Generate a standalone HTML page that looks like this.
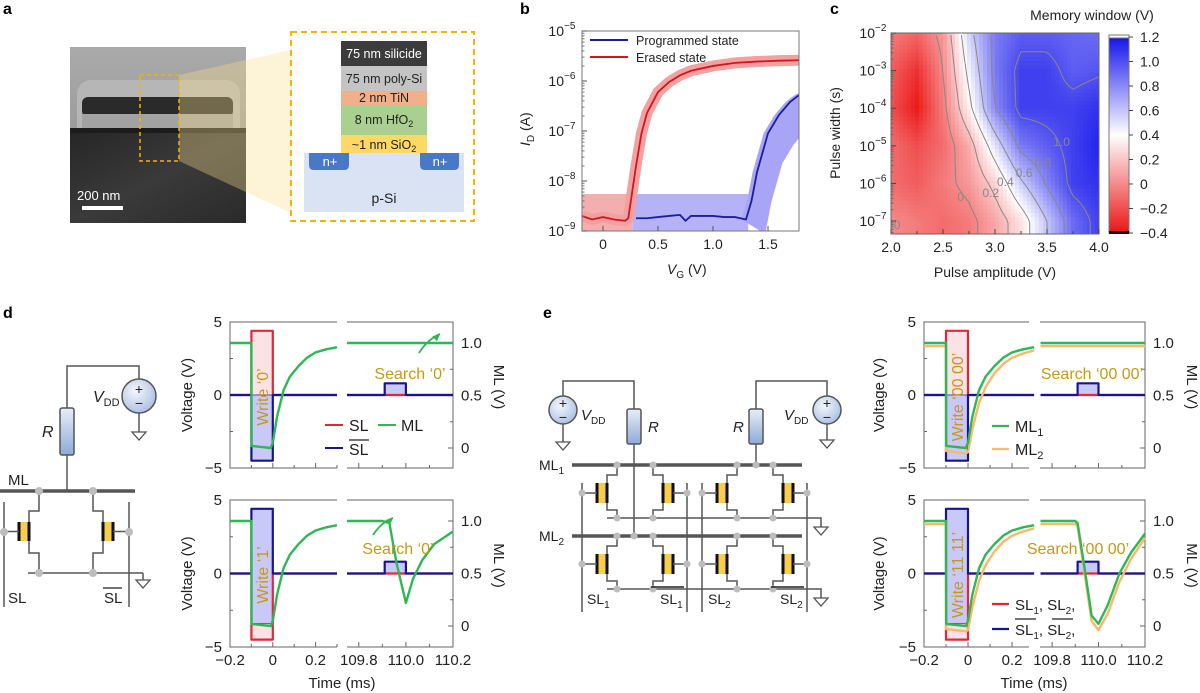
<!DOCTYPE html>
<html><head><meta charset="utf-8"><style>
html,body{margin:0;padding:0;background:#fff;}
svg{display:block;font-family:"Liberation Sans",Arial,sans-serif;}
</style></head><body>
<svg id="fig" xmlns="http://www.w3.org/2000/svg" width="1200" height="693" viewBox="0 0 1200 693">
<defs>
<linearGradient id="temTop" x1="0" y1="0" x2="0" y2="1"><stop offset="0" stop-color="#aaaaaa"/><stop offset="1" stop-color="#8e8e8e"/></linearGradient>
<linearGradient id="temSub" x1="0" y1="0" x2="1" y2="1"><stop offset="0" stop-color="#262626"/><stop offset="0.5" stop-color="#3a3a3a"/><stop offset="1" stop-color="#2a2a2a"/></linearGradient>
<linearGradient id="resG" x1="0" y1="0" x2="0" y2="1"><stop offset="0" stop-color="#e8eef8"/><stop offset="1" stop-color="#8eaad8"/></linearGradient>
<radialGradient id="srcG" cx="0.4" cy="0.35" r="0.7"><stop offset="0" stop-color="#f4f7fc"/><stop offset="1" stop-color="#a9bee3"/></radialGradient>
<linearGradient id="cbG" x1="0" y1="1" x2="0" y2="0"><stop offset="0" stop-color="#eb1414"/><stop offset="0.5" stop-color="#ffffff"/><stop offset="1" stop-color="#1414eb"/></linearGradient>
<clipPath id="clipC"><rect x="891" y="33" width="208" height="201"/></clipPath>
<clipPath id="clipB"><rect x="582" y="31" width="217" height="200"/></clipPath>
</defs>

<g>
<text x="3" y="14" font-size="16" font-weight="bold">a</text>
<g>
<rect x="70" y="47" width="176" height="176" fill="url(#temTop)"/>
<rect x="77" y="80" width="163" height="60" rx="14" fill="#b6b6b6"/>
<rect x="82" y="97" width="151" height="20" rx="6" fill="#2a2a2a"/>
<rect x="82" y="114" width="151" height="14" fill="#a2a2a2"/>
<rect x="70" y="128" width="176" height="5" fill="#1c1c1c"/>
<rect x="70" y="133" width="176" height="90" fill="url(#temSub)"/>
<text x="77" y="200" font-size="13" fill="#fff">200 nm</text>
<rect x="82" y="206" width="41" height="4" fill="#fff"/>
</g>
<polygon points="179,75 291,50 291,213 179,161" fill="rgba(250,222,140,0.35)"/>
<rect x="140" y="75" width="39" height="86" fill="none" stroke="#f5b400" stroke-width="1.5" stroke-dasharray="4,3"/>
<rect x="291" y="32" width="183" height="189" fill="#fff" stroke="#f5b400" stroke-width="2" stroke-dasharray="6,4"/>
<g font-size="12.5" text-anchor="middle">
<rect x="341" y="41" width="86" height="25" fill="#3c3c3c"/><text x="384" y="58" fill="#fff">75 nm silicide</text>
<rect x="341" y="66" width="86" height="25" fill="#c4c4c4"/><text x="384" y="83" fill="#222">75 nm poly-Si</text>
<rect x="341" y="91" width="86" height="14" fill="#f2b08a"/><text x="384" y="102" fill="#222">2 nm TiN</text>
<rect x="341" y="105" width="86" height="30" fill="#a9d08e"/><text x="384" y="124" fill="#222">8 nm HfO<tspan font-size="9" dy="3">2</tspan></text>
<rect x="341" y="135" width="86" height="18" fill="#fdd865"/><text x="384" y="149" fill="#222">~1 nm SiO<tspan font-size="9" dy="3">2</tspan></text>
<rect x="304" y="153" width="160" height="59" fill="#d9e3f3"/>
<path d="M309,153 h40 v12 q0,5 -5,5 h-30 q-5,0 -5,-5 z" fill="#4a78c8"/>
<path d="M420,153 h39 v12 q0,5 -5,5 h-29 q-5,0 -5,-5 z" fill="#4a78c8"/>
<text x="330" y="166" fill="#fff" font-size="13">n+</text>
<text x="440" y="166" fill="#fff" font-size="13">n+</text>
<text x="384" y="203" fill="#222" font-size="14">p-Si</text>
</g>
</g>

<text x="520" y="14" font-size="16" font-weight="bold">b</text>
<text x="830" y="14" font-size="16" font-weight="bold">c</text>
<text x="3" y="318" font-size="16" font-weight="bold">d</text>
<text x="543" y="318" font-size="16" font-weight="bold">e</text>

<g id="gb"></g>
<g id="gc"></g>
<g id="gd"></g>
<g id="ge"></g>
</svg>

<script>
const bTickExp = [-5, -6, -7, -8, -9];
const bXTicks = [0, 0.5, 1.0, 1.5];
const vgErased = [-0.19, -0.1, 0, 0.1, 0.2, 0.23, 0.26, 0.3, 0.35, 0.4, 0.5, 0.6, 0.7, 0.8, 1.0, 1.2, 1.4, 1.6, 1.78];
const idErased = [2e-9, 1.7e-9, 1.9e-9, 1.7e-9, 1.6e-9, 1.8e-9, 5e-9, 2e-8, 9e-8, 2.3e-7, 6e-7, 9.5e-7, 1.3e-6, 1.6e-6, 2e-6, 2.3e-6, 2.45e-6, 2.55e-6, 2.6e-6];
const vgProg = [0.3, 0.4, 0.5, 0.6, 0.7, 0.75, 0.8, 0.9, 1.0, 1.1, 1.2, 1.3, 1.35, 1.4, 1.5, 1.6, 1.7, 1.78];
const idProg = [1.8e-9, 1.8e-9, 1.9e-9, 2e-9, 2.1e-9, 1.6e-9, 2e-9, 2e-9, 2e-9, 1.9e-9, 1.9e-9, 1.7e-9, 4e-9, 1.5e-8, 9e-8, 2.1e-7, 3.8e-7, 5.2e-7];

const ampGrid = [2.0, 2.25, 2.5, 2.75, 3.0, 3.25, 3.5, 3.75, 4.0];
const logWGrid = [-2, -3, -4, -5, -6, -7];
const mwW1e2 = [-0.05, -0.12, 0.05, 0.55, 0.85, 0.95, 0.95, 0.92, 0.9];
const mwW1e3 = [-0.15, -0.3, 0.0, 0.45, 0.85, 1.05, 1.05, 0.95, 0.98];
const mwW1e4 = [-0.2, -0.38, -0.05, 0.35, 0.8, 1.05, 1.05, 1.05, 1.1];
const mwW1e5 = [-0.1, -0.2, -0.1, 0.12, 0.5, 0.85, 0.95, 1.05, 1.15];
const mwW1e6 = [-0.1, -0.15, -0.05, 0.05, 0.25, 0.57, 0.82, 1.05, 1.1];
const mwW1e7 = [0.0, -0.05, -0.1, -0.05, 0.1, 0.3, 0.6, 0.9, 1.05];
const mwGrid = [mwW1e2, mwW1e3, mwW1e4, mwW1e5, mwW1e6, mwW1e7];
const cXTicks = [2.0, 2.5, 3.0, 3.5, 4.0];
const cYTickExp = [-2, -3, -4, -5, -6, -7];
const cbTicks = [1.2, 1.0, 0.8, 0.6, 0.4, 0.2, 0, -0.2, -0.4];
const contourLevels = [0, 0.2, 0.4, 0.6, 0.8, 1.0];

const wrTime = [-0.2, -0.1, -0.1, 0, 0, 0.3];
const wr0SL = [0, 0, 4.4, 4.4, 0, 0];
const wr0SLb = [0, 0, -4.5, -4.5, 0, 0];
const wr1SL = [0, 0, -4.5, -4.5, 0, 0];
const wr1SLb = [0, 0, 4.4, 4.4, 0, 0];
const srTime = [109.75, 109.91, 109.91, 110.0, 110.0, 110.2];
const srSL = [0, 0, 0, 0, 0, 0];
const srSLb = [0, 0, 0.8, 0.8, 0, 0];
const mlTime = [-0.2, -0.1, -0.099, -0.01, 0, 0.02, 0.05, 0.08, 0.12, 0.16, 0.2, 0.25, 0.3];
const mlWrite = [1.0, 1.0, 0.02, 0.0, 0.05, 0.3, 0.55, 0.68, 0.78, 0.86, 0.91, 0.94, 0.96];
const ml2Write = [0.97, 0.97, -0.03, -0.05, -0.04, 0.18, 0.43, 0.58, 0.71, 0.8, 0.86, 0.9, 0.93];
const mlHoldTime = [109.75, 110.2];
const mlHold = [1.0, 1.0];
const ml2Hold = [0.97, 0.97];
const dSearchTime = [109.75, 109.9, 109.93, 109.96, 110.0, 110.03, 110.07, 110.12, 110.2];
const dSearchML = [1.0, 1.0, 0.98, 0.6, 0.22, 0.45, 0.63, 0.78, 0.9];
const eSearchTime = [109.75, 109.9, 109.91, 109.94, 109.97, 110.0, 110.04, 110.09, 110.14, 110.2];
const eSearchML1 = [1.0, 1.0, 0.98, 0.55, 0.1, 0.02, 0.2, 0.5, 0.7, 0.88];
const eSearchML2 = [0.97, 0.97, 0.95, 0.5, 0.05, -0.04, 0.12, 0.42, 0.64, 0.84];
const vTicks = [5, 0, -5];
const mlTicks = [1.0, 0.5, 0];
const tLeftTicks = [-0.2, 0, 0.2];
const tRightTicks = [109.8, 110.0, 110.2];

const NS = 'http://www.w3.org/2000/svg';
function mk(tag, attrs, parent) { const e = document.createElementNS(NS, tag); for (const k in attrs) e.setAttribute(k, attrs[k]); parent.appendChild(e); return e; }
function tx(str, attrs, parent) { const e = mk('text', attrs, parent); e.textContent = str; return e; }
function sub(t, s, dy, fs) { const a = document.createElementNS(NS, 'tspan'); a.setAttribute('dy', dy); a.setAttribute('font-size', fs); a.textContent = s; t.appendChild(a); return a; }
function fmt(v, d) { const s = v.toFixed(d); return v < 0 ? '\u2212' + s.slice(1) : s; }

(function () {
  const g = document.getElementById('gb');
  const L = 582, R = 799, T = 31, B = 231;
  const xB = v => 603 + v * 110;
  const yB = id => T + (-5 - Math.log10(id)) * 50;
  const plot = mk('g', { 'clip-path': 'url(#clipB)' }, g);
  let r = mk('rect', { x: L, y: yB(5.5e-9), width: xB(0.27) - L, height: B - yB(5.5e-9), fill: '#f3a0a0', opacity: 0.85 }, plot);
  
  
  r = mk('rect', { x: xB(0.27), y: yB(5.5e-9), width: xB(1.32) - xB(0.27), height: B - yB(5.5e-9), fill: '#a8a4f6', opacity: 0.85 }, plot);
  
  
  let up = [], lo = [];
  vgProg.forEach((v, i) => { if (v >= 1.28) { up.push(xB(v - 0.04) + ',' + yB(idProg[i])); lo.unshift(xB(v + 0.13) + ',' + yB(Math.max(idProg[i] * 0.25, 1e-9))); } });
  let p = mk('polygon', { points: up.concat([xB(1.9) + ',' + yB(idProg[idProg.length - 1] * 1.5), xB(1.9) + ',' + B]).concat(lo).join(' '), fill: '#a8a4f6' }, plot);
  
  
  let pts = vgErased.map((v, i) => xB(v) + ',' + yB(idErased[i])).join(' ');
  p = mk('polyline', { points: pts, fill: 'none', stroke: '#f3a0a0', 'stroke-width': 11, 'stroke-linejoin': 'round' }, plot);
  
  
  p = mk('polyline', { points: pts, fill: 'none', stroke: '#d0161e', 'stroke-width': 1.8 }, plot);
  
  
  pts = vgProg.map((v, i) => xB(v) + ',' + yB(idProg[i])).join(' ');
  p = mk('polyline', { points: pts, fill: 'none', stroke: '#1c1ca0', 'stroke-width': 1.8 }, plot);
  
  
  const fr = mk('rect', { x: L, y: T, width: R - L, height: B - T, fill: 'none', stroke: '#777', 'stroke-width': 1 }, g);
  
  
  bTickExp.forEach(e => {
    const y = yB(Math.pow(10, e));
    mk('line', { x1: L, x2: L + 5, y1: y, y2: y, stroke: '#555' }, g);
    if (e > -9) for (let k = 2; k <= 9; k++) { const yy = yB(k * Math.pow(10, e - 1)); mk('line', { x1: L, x2: L + 2.5, y1: yy, y2: yy, stroke: '#777' }, g); }
    const t = tx('10', { x: L - 18, y: y + 5, 'font-size': 14, 'text-anchor': 'end', fill: '#222' }, g);
    
    
    tx('\u2212' + (-e), { x: L - 18, y: y - 2, 'font-size': 10, fill: '#222' }, g);
  });
  bXTicks.forEach(v => {
    mk('line', { x1: xB(v), x2: xB(v), y1: B, y2: B - 5, stroke: '#555' }, g);
    const t = tx(v === 0 ? '0' : v.toFixed(1), { x: xB(v), y: B + 18, 'font-size': 14, 'text-anchor': 'middle', fill: '#222' }, g);
    
    
  });
  let t = mk('text', { x: 667, y: 274, 'font-size': 14, fill: '#222' }, g);
  let it = document.createElementNS(NS, 'tspan'); it.setAttribute('font-style', 'italic'); it.textContent = 'V'; t.appendChild(it);
  sub(t, 'G', 4, 10);
  let tv = document.createElementNS(NS, 'tspan'); tv.setAttribute('dy', -4); tv.textContent = ' (V)'; t.appendChild(tv);
  
  
  t = mk('text', { transform: 'translate(530,146) rotate(-90)', 'font-size': 14, fill: '#222' }, g);
  it = document.createElementNS(NS, 'tspan'); it.setAttribute('font-style', 'italic'); it.textContent = 'I'; t.appendChild(it);
  sub(t, 'D', 4, 10);
  tv = document.createElementNS(NS, 'tspan'); tv.setAttribute('dy', -4); tv.textContent = ' (A)'; t.appendChild(tv);
  
  
  let l = mk('line', { x1: 590, x2: 628, y1: 40, y2: 40, stroke: '#1c1ca0', 'stroke-width': 2 }, g);
  
  
  tx('Programmed state', { x: 636, y: 45, 'font-size': 12.5, fill: '#222' }, g);
  l = mk('line', { x1: 590, x2: 628, y1: 57, y2: 57, stroke: '#d0161e', 'stroke-width': 2 }, g);
  
  
  tx('Erased state', { x: 636, y: 62, 'font-size': 12.5, fill: '#222' }, g);
})();

(function () {
  const g = document.getElementById('gc');
  const L = 891, R = 1099, T = 33, B = 234;
  const xC = a => L + (a - 2) * 104;
  const yC = lw => T + (-2 - lw) * 37.6;
  const aInv = x => 2 + (x - L) / 104;
  const lwInv = y => -2 - (y - T) / 37.6;
  function val(a, lw) {
    let i = Math.min(Math.max((a - ampGrid[0]) / 0.25, 0), ampGrid.length - 1.0001);
    let j = Math.min(Math.max((logWGrid[0] - lw), 0), logWGrid.length - 1.0001);
    const i0 = Math.floor(i), j0 = Math.floor(j), fi = i - i0, fj = j - j0;
    const v00 = mwGrid[j0][i0], v01 = mwGrid[j0][i0 + 1], v10 = mwGrid[j0 + 1][i0], v11 = mwGrid[j0 + 1][i0 + 1];
    return (v00 * (1 - fi) + v01 * fi) * (1 - fj) + (v10 * (1 - fi) + v11 * fi) * fj;
  }
  function cmap(v) {
    const t = Math.max(0, Math.min(1, (v + 0.4) / 1.6));
    let r, gg, b;
    if (t < 0.5) { const u = t / 0.5; r = 235 + 20 * u; gg = 20 + 235 * u; b = 20 + 235 * u; }
    else { const u = (t - 0.5) / 0.5; r = 255 - 235 * u; gg = 255 - 235 * u; b = 255 - 20 * u; }
    return 'rgb(' + Math.round(r) + ',' + Math.round(gg) + ',' + Math.round(b) + ')';
  }
  const hm = mk('g', { 'clip-path': 'url(#clipC)' }, g);
  
  
  const st = 4;
  const grid = [];
  for (let y = T, jj = 0; y < B + st; y += st, jj++) {
    grid.push([]);
    for (let x = L; x < R + st; x += st) {
      const v = val(aInv(x + st / 2), lwInv(y + st / 2));
      grid[jj].push(v);
      const c = mk('rect', { x: x, y: y, width: st + 0.6, height: st + 0.6, fill: cmap(v) }, hm);
      
      
    }
  }
  contourLevels.forEach(lev => {
    let d = '';
    for (let j = 0; j < grid.length - 1; j++) for (let i = 0; i < grid[0].length - 1; i++) {
      const c = [grid[j][i], grid[j][i + 1], grid[j + 1][i + 1], grid[j + 1][i]];
      const px = [[0, 0], [1, 0], [1, 1], [0, 1]];
      const cr = [];
      for (let k = 0; k < 4; k++) {
        const a = c[k], b = c[(k + 1) % 4];
        if ((a - lev) * (b - lev) < 0) {
          const f = (lev - a) / (b - a), p0 = px[k], p1 = px[(k + 1) % 4];
          cr.push([L + st / 2 + (i + p0[0] + (p1[0] - p0[0]) * f) * st, T + st / 2 + (j + p0[1] + (p1[1] - p0[1]) * f) * st]);
        }
      }
      for (let k = 0; k + 1 < cr.length; k += 2) d += 'M' + cr[k][0].toFixed(1) + ',' + cr[k][1].toFixed(1) + 'L' + cr[k + 1][0].toFixed(1) + ',' + cr[k + 1][1].toFixed(1);
    }
    const p = mk('path', { d: d, stroke: '#888', 'stroke-width': 1, fill: 'none' }, hm);
    
    
  });
  const labs = [['0', 2.67, -6.36], ['0.2', 2.96, -6.25], ['0.4', 3.1, -5.96], ['0.6', 3.28, -5.72], ['0.8', 3.46, -5.45], ['1.0', 3.64, -4.9], ['0', 2.06, -7.1]];
  labs.forEach(l => {
    const t = tx(l[0], { x: xC(l[1]), y: yC(l[2]) + 4, 'font-size': 12, fill: '#888', 'text-anchor': 'middle' }, g);
    
    
  });
  mk('rect', { x: L, y: T, width: R - L, height: B - T, fill: 'none', stroke: '#666' }, g);
  cXTicks.forEach(a => {
    mk('line', { x1: xC(a), x2: xC(a), y1: B, y2: B - 5, stroke: '#444' }, g);
    mk('line', { x1: xC(a + 0.25), x2: xC(a + 0.25), y1: B, y2: B - 3, stroke: '#444' }, g);
    const t = tx(a.toFixed(1), { x: xC(a), y: B + 18, 'font-size': 14, 'text-anchor': 'middle', fill: '#222' }, g);
    
    
  });
  cYTickExp.forEach(e => {
    const y = yC(e);
    mk('line', { x1: L, x2: L + 5, y1: y, y2: y, stroke: '#444' }, g);
    for (let k = 2; k <= 9; k++) { const yy = yC(e - 1 + Math.log10(k)); if (yy < B) mk('line', { x1: L, x2: L + 2.5, y1: yy, y2: yy, stroke: '#666' }, g); }
    const t = tx('10', { x: L - 16, y: y + 5, 'font-size': 14, 'text-anchor': 'end', fill: '#222' }, g);
    
    
    tx('\u2212' + (-e), { x: L - 16, y: y - 2, 'font-size': 10, fill: '#222' }, g);
  });
  let t = tx('Pulse amplitude (V)', { x: 995, y: 277, 'font-size': 14, 'text-anchor': 'middle', fill: '#222' }, g);
  
  
  t = tx('Pulse width (s)', { transform: 'translate(840,133) rotate(-90)', 'font-size': 14, 'text-anchor': 'middle', fill: '#222' }, g);
  
  
  t = tx('Memory window (V)', { x: 1092, y: 20, 'font-size': 14, 'text-anchor': 'middle', fill: '#222' }, g);
  
  
  const cb = mk('rect', { x: 1109, y: 37, width: 20, height: 196, fill: 'url(#cbG)', stroke: '#777' }, g);
  
  
  mk('rect', { x: 1109, y: 231, width: 20, height: 3, fill: '#111' }, g);
  mk('rect', { x: 1109, y: 35, width: 20, height: 3, fill: '#fff', stroke: '#777' }, g);
  cbTicks.forEach(v => {
    const y = 37 + (1.2 - v) * 122.5;
    mk('line', { x1: 1129, x2: 1133, y1: y, y2: y, stroke: '#444' }, g);
    const tt = tx(v === 0 ? '0' : fmt(v, 1), { x: 1140, y: y + 5, 'font-size': 14, fill: '#222' }, g);
    
    
  });
})();

function scope(g, o) {
  const xL = t => o.xl0 + (t - o.dl0) / (o.dl1 - o.dl0) * (o.xl1 - o.xl0);
  const xR = t => o.xr0 + (t - o.dr0) / (o.dr1 - o.dr0) * (o.xr1 - o.xr0);
  const yV = v => o.yT + (5 - v) * (o.yB - o.yT) / 10;
  const yM = m => o.yT + 126 - m * 105;
  const ax = { stroke: '#666', 'stroke-width': 1 };
  mk('polyline', Object.assign({ points: `${o.xl1},${o.yT} ${o.xl0},${o.yT} ${o.xl0},${o.yB} ${o.xl1},${o.yB}`, fill: 'none' }, ax), g);
  mk('polyline', Object.assign({ points: `${o.xr0},${o.yT} ${o.xr1},${o.yT} ${o.xr1},${o.yB} ${o.xr0},${o.yB}`, fill: 'none' }, ax), g);
  [5, 2.5, 0, -2.5, -5].forEach(v => mk('line', Object.assign({ x1: o.xl0, x2: o.xl0 + (v % 5 === 0 ? 5 : 3), y1: yV(v), y2: yV(v) }, ax), g));
  vTicks.forEach(v => {
    const t = tx(v === 0 ? '0' : fmt(v, 0), { x: o.xl0 - 8, y: yV(v) + 5, 'font-size': 15, 'text-anchor': 'end', fill: '#222' }, g);
    
    
  });
  [1.0, 0.75, 0.5, 0.25, 0].forEach(m => mk('line', Object.assign({ x1: o.xr1, x2: o.xr1 - (Math.abs(m * 2 - Math.round(m * 2)) < 0.01 ? 5 : 3), y1: yM(m), y2: yM(m) }, ax), g));
  mlTicks.forEach(m => {
    const t = tx(m === 0 ? '0' : m.toFixed(1), { x: o.xr1 + 8, y: yM(m) + 5, 'font-size': 15, fill: '#222' }, g);
    
    
  });
  for (let t = -0.2; t <= o.dl1 + 1e-6; t += 0.1) mk('line', Object.assign({ x1: xL(t), x2: xL(t), y1: o.yB, y2: o.yB - (Math.abs(Math.round(t * 10)) % 2 === 0 ? 5 : 3) }, ax), g);
  for (let t = 109.8; t <= 110.2 + 1e-6; t += 0.1) mk('line', Object.assign({ x1: xR(t), x2: xR(t), y1: o.yB, y2: o.yB - (Math.round(t * 10) % 2 === 0 ? 5 : 3) }, ax), g);
  if (o.showX) {
    tLeftTicks.forEach(t => { const e = tx(t === 0 ? '0' : fmt(t, 1), { x: xL(t), y: o.yB + 18, 'font-size': 15, 'text-anchor': 'middle', fill: '#222' }, g);   });
    tRightTicks.forEach(t => { const e = tx(t.toFixed(1), { x: xR(t), y: o.yB + 18, 'font-size': 15, 'text-anchor': 'middle', fill: '#222' }, g);   });
  }
  let t = tx('Voltage (V)', { transform: `translate(${o.vx},${(o.yT + o.yB) / 2}) rotate(-90)`, 'font-size': 15, 'text-anchor': 'middle', fill: '#222' }, g);
  
  
  t = tx('ML (V)', { transform: `translate(${o.mx},${(o.yT + o.yB) / 2 - 8}) rotate(90)`, 'font-size': 15, 'text-anchor': 'middle', fill: '#222' }, g);
  
  
  return { xL, xR, yV, yM };
}
function line(g, ts, vs, xf, yf, color, w, name) {
  const p = mk('polyline', { points: ts.map((t, i) => xf(t).toFixed(1) + ',' + yf(vs[i]).toFixed(1)).join(' '), fill: 'none', stroke: color, 'stroke-width': w, 'stroke-linejoin': 'round' }, g);
  
  
  return p;
}
function shade(g, x0, x1, y0, y1, fill, stroke, name) {
  const r = mk('rect', { x: x0, y: Math.min(y0, y1), width: x1 - x0, height: Math.abs(y1 - y0), fill: fill, stroke: stroke, 'stroke-width': 1 }, g);
  
  
}
const RED = '#e0283a', BLUE = '#16168a', GREEN = '#2fb655', ORANGE = '#f8b96a', GOLD = '#c49a12';
const PINK = 'rgba(242,160,170,0.3)', LAV = 'rgba(120,120,240,0.4)';

function scopeRow(g, o, slW, slbW, mlSets, searchSets, label, slabel) {
  const s = scope(g, o);
  const pulseT0 = wrTime[1], pulseT1 = wrTime[3];
  const hi = Math.max(slW[2], slbW[2]), lo = Math.min(slW[2], slbW[2]);
  const hiCol = slW[2] > 0 ? PINK : LAV, loCol = slW[2] > 0 ? LAV : PINK;
  const mid = slW[2] > 0 ? 0 : -3.4;
  shade(g, s.xL(pulseT0), s.xL(pulseT1), s.yV(hi), s.yV(mid), hiCol, slW[2] > 0 ? 'rgba(224,40,58,0.5)' : 'rgba(22,22,138,0.6)', 'write-pulse-shade');
  shade(g, s.xL(pulseT0), s.xL(pulseT1), s.yV(mid), s.yV(lo), loCol, slW[2] > 0 ? 'rgba(22,22,138,0.6)' : 'rgba(224,40,58,0.5)', 'write-pulse-shade');
  shade(g, s.xR(srTime[1]), s.xR(srTime[3]), s.yV(srSLb[2]), s.yV(0), LAV, 'rgba(22,22,138,0.6)', 'search-pulse-shade');
  line(g, wrTime, slW, s.xL, s.yV, RED, 2.2, 'sl-trace');
  line(g, wrTime, slbW, s.xL, s.yV, BLUE, 2.2, 'sl-bar-trace');
  line(g, srTime, srSL, s.xR, s.yV, RED, 2.2, 'sl-trace');
  line(g, srTime, srSLb, s.xR, s.yV, BLUE, 2.2, 'sl-bar-trace');
  mlSets.forEach(m => line(g, m[0], m[1], s.xL, s.yM, m[2], 2.4, m[3]));
  searchSets.forEach(m => line(g, m[0], m[1], s.xR, s.yM, m[2], 2.4, m[3]));
  let t = tx(label, { transform: `translate(${(s.xL(pulseT0) + s.xL(pulseT1)) / 2 + 6},${o.yT + 75}) rotate(-90)`, 'font-size': 16, 'text-anchor': 'middle', fill: GOLD }, g);
  
  
  t = tx(slabel[0], { x: slabel[1], y: slabel[2], 'font-size': 16, 'text-anchor': 'middle', fill: GOLD }, g);
  
  
  return s;
}
function arrow(g, x0, y0, x1, y1) {
  const a = mk('path', { d: `M${x0},${y0} Q${(x0 + x1) / 2 - 2},${(y0 + y1) / 2 - 4} ${x1},${y1}`, stroke: GREEN, 'stroke-width': 1.8, fill: 'none' }, g);
  
  
  const ang = Math.atan2(y1 - y0, x1 - x0);
  mk('polygon', { points: `${x1},${y1} ${x1 - 8 * Math.cos(ang - 0.45)},${y1 - 8 * Math.sin(ang - 0.45)} ${x1 - 8 * Math.cos(ang + 0.45)},${y1 - 8 * Math.sin(ang + 0.45)}`, fill: GREEN }, g);
}

(function () {
  const g = document.getElementById('gd');
  const base = { xl0: 230, xl1: 337, dl0: -0.2, dl1: 0.3, xr0: 347, xr1: 453, dr0: 109.75, dr1: 110.2, vx: 192, mx: 494 };
  scopeRow(g, Object.assign({ yT: 322, yB: 468, showX: false }, base), wr0SL, wr0SLb,
    [[mlTime, mlWrite, GREEN, 'ml-trace']], [[mlHoldTime, mlHold, GREEN, 'ml-trace']], "Write \u20180\u2019", ["Search \u20180\u2019", 410, 379]);
  arrow(g, 419, 353, 440, 334);
  scopeRow(g, Object.assign({ yT: 500, yB: 647, showX: true }, base), wr1SL, wr1SLb,
    [[mlTime, mlWrite, GREEN, 'ml-trace']], [[dSearchTime, dSearchML, GREEN, 'ml-trace']], "Write \u20181\u2019", ["Search \u20180\u2019", 398, 554]);
  arrow(g, 373, 535, 393, 518);
  let t = tx('Time (ms)', { x: 342, y: 688, 'font-size': 15, 'text-anchor': 'middle', fill: '#222' }, g);
  
  
  let l = mk('line', { x1: 325, x2: 343, y1: 425, y2: 425, stroke: RED, 'stroke-width': 2 }, g);
  
  
  tx('SL', { x: 349, y: 431, 'font-size': 16, fill: '#222' }, g);
  l = mk('line', { x1: 378, x2: 396, y1: 425, y2: 425, stroke: GREEN, 'stroke-width': 2 }, g);
  
  
  tx('ML', { x: 401, y: 431, 'font-size': 16, fill: '#222' }, g);
  l = mk('line', { x1: 325, x2: 343, y1: 448, y2: 448, stroke: BLUE, 'stroke-width': 2 }, g);
  
  
  tx('SL', { x: 349, y: 455, 'font-size': 16, fill: '#222' }, g);
  mk('line', { x1: 349, x2: 369, y1: 440, y2: 440, stroke: '#222', 'stroke-width': 1.2 }, g);
})();

(function () {
  const g = document.getElementById('ge');
  const base = { xl0: 924, xl1: 1029, dl0: -0.2, dl1: 0.277, xr0: 1040, xr1: 1145, dr0: 109.748, dr1: 110.2, vx: 884, mx: 1187 };
  scopeRow(g, Object.assign({ yT: 322, yB: 468, showX: false }, base), wr0SL, wr0SLb,
    [[mlTime, ml2Write, ORANGE, 'ml2-trace'], [mlTime, mlWrite, GREEN, 'ml1-trace']],
    [[mlHoldTime, ml2Hold, ORANGE, 'ml2-trace'], [mlHoldTime, mlHold, GREEN, 'ml1-trace']], "Write \u201800 00\u2019", ["Search \u201800 00\u2019", 1092, 379]);
  scopeRow(g, Object.assign({ yT: 500, yB: 647, showX: true }, base), wr1SL, wr1SLb,
    [[mlTime, ml2Write, ORANGE, 'ml2-trace'], [mlTime, mlWrite, GREEN, 'ml1-trace']],
    [[eSearchTime, eSearchML2, ORANGE, 'ml2-trace'], [eSearchTime, eSearchML1, GREEN, 'ml1-trace']], "Write \u201811 11\u2019", ["Search \u201800 00\u2019", 1078, 554]);
  let t = tx('Time (ms)', { x: 1034, y: 688, 'font-size': 15, 'text-anchor': 'middle', fill: '#222' }, g);
  
  
  let l = mk('line', { x1: 992, x2: 1009, y1: 426, y2: 426, stroke: GREEN, 'stroke-width': 2.2 }, g);
  
  
  t = tx('ML', { x: 1015, y: 432, 'font-size': 16, fill: '#222' }, g); sub(t, '1', 4, 11);
  l = mk('line', { x1: 992, x2: 1009, y1: 449, y2: 449, stroke: ORANGE, 'stroke-width': 2.2 }, g);
  
  
  t = tx('ML', { x: 1015, y: 455, 'font-size': 16, fill: '#222' }, g); sub(t, '2', 4, 11);
  l = mk('line', { x1: 992, x2: 1009, y1: 604, y2: 604, stroke: RED, 'stroke-width': 2.2 }, g);
  
  
  t = tx('SL', { x: 1015, y: 610, 'font-size': 15, fill: '#222' }, g); sub(t, '1', 4, 10);
  let ts = document.createElementNS(NS, 'tspan'); ts.setAttribute('dy', -4); ts.textContent = ', SL'; t.appendChild(ts); sub(t, '2', 4, 10);
  ts = document.createElementNS(NS, 'tspan'); ts.setAttribute('dy', -4); ts.textContent = ','; t.appendChild(ts);
  l = mk('line', { x1: 992, x2: 1009, y1: 629, y2: 629, stroke: BLUE, 'stroke-width': 2.2 }, g);
  
  
  t = tx('SL', { x: 1015, y: 635, 'font-size': 15, fill: '#222' }, g); sub(t, '1', 4, 10);
  ts = document.createElementNS(NS, 'tspan'); ts.setAttribute('dy', -4); ts.textContent = ', SL'; t.appendChild(ts); sub(t, '2', 4, 10);
  ts = document.createElementNS(NS, 'tspan'); ts.setAttribute('dy', -4); ts.textContent = ','; t.appendChild(ts);
  mk('line', { x1: 1015, x2: 1036, y1: 619, y2: 619, stroke: '#222', 'stroke-width': 1.2 }, g);
  mk('line', { x1: 1052, x2: 1073, y1: 619, y2: 619, stroke: '#222', 'stroke-width': 1.2 }, g);
})();

function wire(g, pts, w) { mk('polyline', { points: pts, fill: 'none', stroke: '#555', 'stroke-width': w || 1.5 }, g); }
function node(g, x, y, r) { const c = mk('circle', { cx: x, cy: y, r: r || 4, fill: '#bdbdbd' }, g);   }
function ground(g, x, y) { const p = mk('polygon', { points: `${x - 7},${y} ${x + 7},${y} ${x},${y + 8}`, fill: '#fff', stroke: '#555', 'stroke-width': 1.3 }, g);   }
function source(g, x, y, r) {
  const c = mk('circle', { cx: x, cy: y, r: r, fill: 'url(#srcG)', stroke: '#555', 'stroke-width': 1.5 }, g);
  
  
  tx('+', { x: x, y: y - 2, 'font-size': 14, 'text-anchor': 'middle', fill: '#222' }, g);
  tx('\u2212', { x: x, y: y + 12, 'font-size': 14, 'text-anchor': 'middle', fill: '#222' }, g);
}
function resistor(g, x, y0, y1) { const r = mk('rect', { x: x - 7, y: y0, width: 14, height: y1 - y0, rx: 2, fill: 'url(#resG)', stroke: '#555', 'stroke-width': 1.5 }, g);   }
function fet(g, dx, my, dir, gx, k) {
  const cx = dx + dir * 10;
  const yb = my + k[0], c0 = my + k[1], c1 = my + k[2], bb = my + k[3], sy = my + k[4], gy = (c0 + c1) / 2;
  wire(g, `${dx},${my} ${dx},${yb} ${cx},${yb} ${cx},${c0}`);
  wire(g, `${cx},${c1} ${cx},${bb} ${dx},${bb} ${dx},${sy}`);
  const y = mk('rect', { x: dir < 0 ? cx - 9 : cx + 1, y: c0, width: 8, height: c1 - c0, fill: '#f9cd4b' }, g);
  
  
  mk('line', { x1: cx, x2: cx, y1: c0, y2: c1, stroke: '#111', 'stroke-width': 3 }, g);
  const gb = dir < 0 ? cx - 10 : cx + 10;
  mk('line', { x1: gb, x2: gb, y1: c0, y2: c1, stroke: '#111', 'stroke-width': 3 }, g);
  wire(g, `${gb},${gy} ${gx},${gy}`);
}
(function () {
  const g = mk('g', {}, document.getElementById('gd'));
  
  
  wire(g, '67,408 67,366 139,366 139,379');
  source(g, 139, 396, 17);
  wire(g, '139,413 139,432'); ground(g, 139, 432);
  resistor(g, 67, 408, 455);
  wire(g, '67,455 67,491');
  wire(g, '0,491 135,491', 3.5);
  wire(g, '4,502 4,607'); wire(g, '129,502 129,607');
  wire(g, '28,573 143,573'); wire(g, '143,573 143,580'); ground(g, 143, 580);
  const k = [20, 31, 50, 62, 82];
  fet(g, 39, 491, -1, 4, k); fet(g, 93, 491, 1, 129, k);
  [[39, 491], [93, 491], [39, 573], [93, 573], [4, 532], [129, 532]].forEach(p => node(g, p[0], p[1], 4));
  tx('ML', { x: 8, y: 485, 'font-size': 15, fill: '#222' }, g);
  tx('R', { x: 42, y: 437, 'font-size': 16, 'font-style': 'italic', fill: '#222' }, g);
  const v = tx('V', { x: 93, y: 402, 'font-size': 16, 'font-style': 'italic', fill: '#222' }, g); sub(v, 'DD', 4, 11).setAttribute('font-style', 'normal');
  tx('SL', { x: 8, y: 603, 'font-size': 15, fill: '#222' }, g);
  tx('SL', { x: 104, y: 603, 'font-size': 15, fill: '#222' }, g);
  mk('line', { x1: 103, x2: 122, y1: 588, y2: 588, stroke: '#222', 'stroke-width': 1.2 }, g);
})();
(function () {
  const g = mk('g', {}, document.getElementById('ge'));
  
  
  source(g, 563, 410, 14);
  wire(g, '563,396 563,381 634,381 634,409');
  wire(g, '563,424 563,442'); ground(g, 563, 442);
  resistor(g, 634, 409, 444);
  wire(g, '634,444 634,536');
  resistor(g, 756, 409, 444);
  wire(g, '756,444 756,465');
  wire(g, '756,409 756,381 827,381 827,396');
  source(g, 827, 410, 14);
  wire(g, '827,424 827,440'); ground(g, 827, 440);
  wire(g, '572,465 802,465', 3.5); wire(g, '572,536 802,536', 3.5);
  [582, 687, 702, 807].forEach(x => wire(g, `${x},483 ${x},612`));
  wire(g, '607,518 821,518 821,527'); ground(g, 821, 527);
  wire(g, '607,589 821,589 821,598'); ground(g, 821, 598);
  const k = [10, 18, 38, 45, 53];
  const cols = [[617, -1, 582], [653, 1, 687], [737, -1, 702], [773, 1, 807]];
  [465, 536].forEach(my => cols.forEach(c => { fet(g, c[0], my, c[1], c[2], k); node(g, c[0], my, 3.5); node(g, c[0], my + 53, 3.5); node(g, c[2], my + 28, 3.5); }));
  node(g, 634, 536, 3.5); node(g, 756, 465, 3.5);
  let t = tx('ML', { x: 539, y: 470, 'font-size': 14, fill: '#222' }, g); sub(t, '1', 4, 10);
  t = tx('ML', { x: 539, y: 541, 'font-size': 14, fill: '#222' }, g); sub(t, '2', 4, 10);
  tx('R', { x: 648, y: 432, 'font-size': 15, 'font-style': 'italic', fill: '#222' }, g);
  tx('R', { x: 733, y: 432, 'font-size': 15, 'font-style': 'italic', fill: '#222' }, g);
  t = tx('V', { x: 581, y: 420, 'font-size': 15, 'font-style': 'italic', fill: '#222' }, g); sub(t, 'DD', 4, 10).setAttribute('font-style', 'normal');
  t = tx('V', { x: 784, y: 420, 'font-size': 15, 'font-style': 'italic', fill: '#222' }, g); sub(t, 'DD', 4, 10).setAttribute('font-style', 'normal');
  [[587, 'SL', '1', false], [660, 'SL', '1', true], [708, 'SL', '2', false], [780, 'SL', '2', true]].forEach(s => {
    const tt = tx(s[1], { x: s[0], y: 604, 'font-size': 14, fill: '#222' }, g); sub(tt, s[2], 4, 10);
    
    
    if (s[3]) mk('line', { x1: s[0] - 9, x2: s[0] + 24, y1: 587, y2: 587, stroke: '#222', 'stroke-width': 1.5 }, g);
  });
})();
</script>
</body></html>
